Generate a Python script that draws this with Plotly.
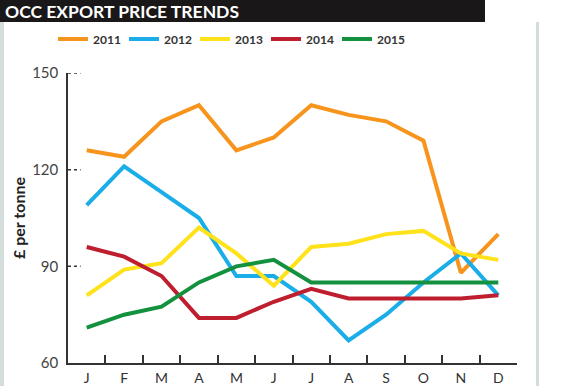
import plotly.graph_objects as go

months = ["J", "F", "M", "A", "M ", "J ", "J  ", "A ", "S", "O", "N", "D"]
month_labels = ["J", "F", "M", "A", "M", "J", "J", "A", "S", "O", "N", "D"]
y2011 = [126, 124, 135, 140, 126, 130, 140, 137, 135, 129, 88, 100]
y2012 = [109, 121, 113, 105, 87, 87, 79, 67, 75, 85, 94, 81]
y2013 = [81, 89, 91, 102, 94, 84, 96, 97, 100, 101, 94, 92]
y2014 = [96, 93, 87, 74, 74, 79, 83, 80, 80, 80, 80, 81]
y2015 = [71, 75, 77.5, 85, 90, 92, 85, 85, 85, 85, 85, 85]
series = [("2011", y2011, "#F7941D"), ("2012", y2012, "#1AADE8"),
          ("2013", y2013, "#FFE21A"), ("2014", y2014, "#BE1E2D"),
          ("2015", y2015, "#13913E")]
yticks = [60, 90, 120, 150]

W, H = 580, 386
L, R, T, B = 68, 517, 73, 363


def px(x):
    return (x - L) / (R - L)


def py(y):
    return (B - y) / (B - T)


fig = go.Figure()
for name, vals, col in series:
    fig.add_trace(go.Scatter(x=months, y=vals, name=name, mode="lines",
                             line=dict(color=col, width=4)))

shapes = []
shapes.append(dict(type="rect", xref="paper", yref="paper", x0=px(-2), x1=px(485),
                   y0=py(22), y1=py(-2), fillcolor="#1a1718", line=dict(width=0), layer="below"))
shapes.append(dict(type="rect", xref="paper", yref="paper", x0=px(-2), x1=px(4),
                   y0=py(390), y1=py(22), fillcolor="#D5DDDA", line=dict(width=0), layer="below"))
shapes.append(dict(type="rect", xref="paper", yref="paper", x0=px(536), x1=px(539),
                   y0=py(390), y1=py(22), fillcolor="#D5DDDA", line=dict(width=0), layer="below"))
for v in yticks[1:]:
    shapes.append(dict(type="line", xref="x domain", yref="y", x0=0, x1=0.028, y0=v, y1=v,
                       line=dict(color="#333333", width=1.5, dash="dot")))

fig.update_layout(
    width=W, height=H,
    margin=dict(l=L, r=W - R, t=T, b=H - B, autoexpand=False),
    paper_bgcolor="white", plot_bgcolor="white",
    shapes=shapes,
    showlegend=True,
    legend=dict(orientation="h", x=px(53), y=py(39), xanchor="left", yanchor="middle",
                font=dict(family="Lato", size=12, color="#333333", weight="bold"),
                entrywidth=26, entrywidthmode="pixels", bgcolor="rgba(0,0,0,0)",
                itemclick=False),
    annotations=[dict(text="<b>OCC EXPORT PRICE TRENDS</b>", xref="paper", yref="paper",
                      x=px(3), y=py(11), xanchor="left", yanchor="middle", showarrow=False,
                      font=dict(family="Lato", size=17.5, color="white"))],
    xaxis=dict(type="category", tickmode="array", tickvals=months, ticktext=month_labels,
               tickson="boundaries", ticks="inside", ticklen=8, tickwidth=1.5, tickcolor="#333333",
               showline=True, linecolor="#333333", linewidth=1.5, showgrid=False, automargin=False,
               range=[-0.5, 11.5], ticklabelstandoff=1,
               tickfont=dict(family="Lato", size=14, color="#333333")),
    yaxis=dict(range=[60, 150], tickvals=yticks, ticks="", showline=True, automargin=False,
               linecolor="#333333", linewidth=1.5, showgrid=False, zeroline=False,
               ticklabelstandoff=5,
               tickfont=dict(family="Lato", size=15, color="#444444"),
               title=dict(text="<b>£ per tonne</b>", standoff=3,
                          font=dict(family="Lato", size=16, color="#222222"))),
)

fig.write_html("out.html", config={"displayModeBar": False},
               post_script="document.body.style.margin='0';")
